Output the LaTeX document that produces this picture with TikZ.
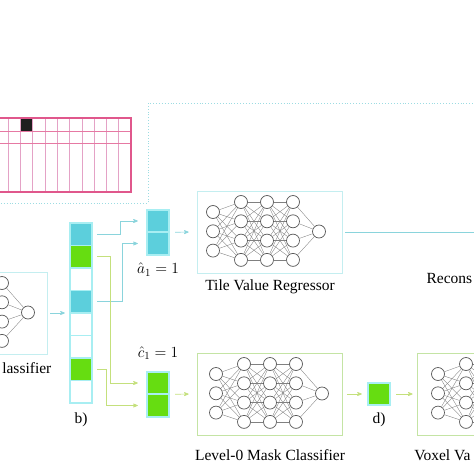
\RequirePackage{fix-cm}
\documentclass[tikz,border=0pt]{standalone}
\usepackage{amsmath}
\usepackage{fontspec}
\setmainfont{Liberation Serif}
\usepackage{tikz}
\usetikzlibrary{automata, positioning}
\usetikzlibrary{arrows}

\definecolor{tilecyan}{HTML}{5CCFDC}
\definecolor{maskgreen}{HTML}{66DD11}
\definecolor{celledge}{HTML}{A8EEF2}
\definecolor{wirecyan}{HTML}{8AD4DC}
\definecolor{wiregreen}{HTML}{C4E07C}
\definecolor{boxcyan}{HTML}{C4EEF0}
\definecolor{boxgreen}{HTML}{C4E4A4}
\definecolor{gridpink}{HTML}{E0578C}
\definecolor{gridline}{HTML}{E4A2C6}
\definecolor{tiledot}{HTML}{9CDCE2}

% small fully connected net: name, box x, box y, first layer x, box colour
\newcommand{\mlp}[5]{
  \node[netbox, draw=#5] (#1) at (#2+72.5,#3+41) {};
  \foreach \k in {0,1,2}
    \node[state] (#1i\k) at (#4,#3+21+\k*19.3) {};
  \foreach \ly/\dx in {1/28,2/54,3/80}
    \foreach \k in {0,1,2,3}
      \node[state] (#1h\ly\k) at (#4+\dx,#3+11+\k*19.3) {};
  \node[state] (#1o) at (#4+106,#3+40.5) {};
  \foreach \a in {0,1,2}
    \foreach \b in {0,1,2,3}
      \draw[wire] (#1i\a) -- (#1h1\b);
  \foreach \a in {0,1,2,3}
    \foreach \b in {0,1,2,3}
      {\draw[wire] (#1h1\a) -- (#1h2\b);
       \draw[wire] (#1h2\a) -- (#1h3\b);}
  \foreach \a in {0,1,2,3}
    \draw[wire] (#1h3\a) -- (#1o);
}

\begin{document}
\begin{tikzpicture}[x=1pt,y=-1pt,>=stealth',semithick,node distance=22.5pt,
  cell/.style={draw=celledge,line width=1.6pt,minimum width=22.4pt,minimum height=22.5pt,inner sep=0pt,outer sep=0pt},
  netbox/.style={line width=0.7pt,minimum width=145pt,minimum height=82pt,inner sep=0pt},
  wire/.style={draw=black!50,line width=0.35pt},
  link/.style={->,line width=0.7pt,shorten <=5pt,shorten >=9pt}]
\tikzstyle{every state}=[fill=white,draw=black!65,line width=0.7pt,minimum size=13pt,inner sep=0pt]
\tikzset{font=\fontsize{15.5}{18}\selectfont}

\useasboundingbox (0,0) rectangle (474,474);

        % tile grid
        \fill[black!88] (20.7,118.5) rectangle (32.7,131);
        \foreach \k in {1,...,11}
          \draw[gridline,line width=0.7pt] (131-\k*12.27,118) -- (131-\k*12.27,192);
        \draw[gridpink!80,line width=0.7pt] (-10,131) -- (131,131) (-10,143) -- (131,143);
        \draw[gridpink,line width=1.2pt] (-10,118) rectangle (131,192);
        \draw[tiledot,dotted,line width=0.9pt] (-5,203) -- (148,203) -- (148,103) -- (480,103);

        % networks
        \mlp{cls}{-98}{272}{-78}{boxcyan}
        \mlp{tile}{197}{191}{213}{boxcyan}
        \mlp{mask}{197}{353}{216}{boxgreen}
        \mlp{voxel}{417}{353}{438}{boxgreen}

        % output vector
        \node[cell,fill=tilecyan]           (v1) at (81,234.25) {};
        \node[cell,fill=maskgreen]          (v2) [below of=v1]  {};
        \node[cell,fill=white]              (v3) [below of=v2]  {};
        \node[cell,fill=tilecyan]           (v4) [below of=v3]  {};
        \node[cell,fill=white]              (v5) [below of=v4]  {};
        \node[cell,fill=white]              (v6) [below of=v5]  {};
        \node[cell,fill=maskgreen]          (v7) [below of=v6]  {};
        \node[cell,fill=white]              (v8) [below of=v7]  {};
        \node (b) [below of=v8, node distance=28pt] {b)};

        \node[cell,fill=tilecyan]           (a1) at (158,221)   {};
        \node[cell,fill=tilecyan]           (a2) [below of=a1]  {};
        \node (ahat) [below of=a2, node distance=26pt] {$\hat{a}_1 = 1$};

        \node[cell,fill=maskgreen]          (c1) at (158,383)   {};
        \node[cell,fill=maskgreen]          (c2) [below of=c1]  {};
        \node (chat) [above of=c1, node distance=30pt] {$\hat{c}_1 = 1$};

        \node[cell,fill=maskgreen,minimum height=22.4pt] (d) at (379,394) {};
        \node (dl) [below of=d, node distance=26pt] {d)};

        % labels
        \node[anchor=east] (clsl)   at (55,368)   {lassifier};
        \node             (tilel)  at (270,287)  {Tile Value Regressor};
        \node             (maskl)  at (270,455)  {Level-0 Mask Classifier};
        \node[anchor=west,inner sep=1pt] (voxell) at (413,455)  {Voxel Va};
        \node[anchor=west] (recl)   at (423,278)  {Recons};
        \coordinate (recon) at (480,232);

        \path[link]
        (cls.east)      edge[wirecyan, shorten <=3pt, shorten >=5pt]  (v4.south west)
        (v1.east)       edge[wirecyan, to path={-- ++(28,0) |- (\tikztotarget)}]  (a1.west)
        (v4.east)       edge[wirecyan, to path={-- ++(30,0) |- (\tikztotarget)}]  (a2.west)
        (v2.east)       edge[wiregreen, to path={-- ++(18,0) |- (\tikztotarget)}] (c1.west)
        (v7.east)       edge[wiregreen, to path={-- ++(14,0) |- (\tikztotarget)}] (c2.west)
        (a1.south east) edge[wirecyan, shorten <=6pt, shorten >=8pt]  (tile.west)
        (c1.south east) edge[wiregreen, shorten <=6pt, shorten >=8pt] (mask.west)
        (mask.east)     edge[wiregreen, shorten <=5pt, shorten >=6pt] (d.west)
        (d.east)        edge[wiregreen, shorten <=6pt, shorten >=4pt] (voxel.west)
        ; %end path

        \draw[wirecyan,line width=0.7pt,shorten <=3pt] (tile.east) -- (recon);

\end{tikzpicture}
\end{document}
